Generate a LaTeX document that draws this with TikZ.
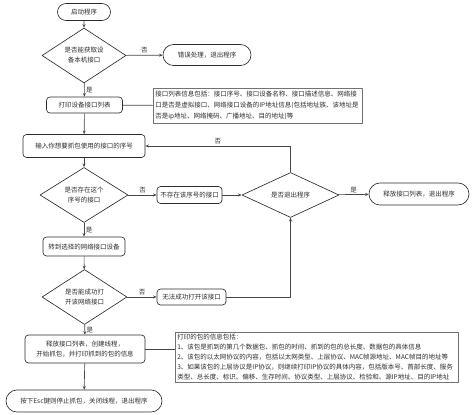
\documentclass[tikz,border=0pt]{standalone}
\usepackage{fontspec}
\setmainfont{Noto Sans CJK SC}
\usetikzlibrary{arrows.meta,shapes.geometric,shapes.misc,positioning}
\definecolor{fg}{RGB}{45,45,45}
\definecolor{ln}{RGB}{70,70,70}
\definecolor{mu}{RGB}{115,115,115}
\tikzset{
  every picture/.style={line width=0.65pt, line join=round,
    >={Stealth[length=3.6pt,width=3pt]}},
  every node/.style={font=\fontsize{6.5}{10}\selectfont, text=fg},
  % Knotentypen
  term/.style={rounded rectangle, draw=fg, fill=white, inner sep=1pt},
  proc/.style={rectangle, rounded corners=3.5pt, draw=fg, fill=white, align=center, inner sep=1pt},
  cond/.style={diamond, draw=fg, fill=white, inner sep=0pt, align=center},
  memo/.style={rectangle, draw=mu, fill=white, align=left, anchor=north west,
    inner sep=2pt, text width=#1},
  % Verbindungen
  flow/.style={ln, ->},
  link/.style={ln},
  lbl/.style={inner sep=1.5pt},
}
\begin{document}
\begin{tikzpicture}[x=1pt, y=-1pt]
  \useasboundingbox (0,0) rectangle (474,415);
  % Hauptpfad links
  \node[term, minimum width=55pt, minimum height=17pt] (start) at (84,12) {启动程序};
  \node[cond, minimum width=84pt, minimum height=36pt] (getdev) at (84,55.5) {是否能获取设\\备本机接口};
  \node[term, minimum width=90pt, minimum height=21pt] (err) at (207,55) {错误处理，退出程序};
  \node[proc, minimum width=76pt, minimum height=16pt] (print) at (84.5,105) {打印设备接口列表};
  \node[memo=205pt, minimum height=35pt, font=\fontsize{6.5}{11}\selectfont] (note1) at (153,88)
    {接口列表信息包括：接口序号、接口设备名称、接口描述信息、网络接\\
     口是否是虚拟接口、网络接口设备的IP地址信息(包括地址族、该地址是\\
     否是ip地址、网络掩码、广播地址、目的地址)等};
  \node[proc, minimum width=122pt, minimum height=23pt] (input) at (84,146) {输入你想要抓包使用的接口的序号};
  \node[cond, minimum width=88pt, minimum height=38pt] (hasidx) at (84,195) {是否存在这个\\序号的接口};
  \node[proc, minimum width=65pt, minimum height=17pt] (noidx) at (189.5,195) {不存在该序号的接口};
  \node[cond, minimum width=97pt, minimum height=26pt] (askquit) at (290.5,195) {是否退出程序};
  \node[term, minimum width=102pt, minimum height=22pt] (quit) at (419,194) {释放接口列表，退出程序};
  \node[proc, minimum width=82pt, minimum height=19pt] (goto) at (84,246.5) {转到选择的网络接口设备};
  \node[cond, minimum width=85pt, minimum height=38pt] (canopen) at (84.5,297) {是否能成功打\\开该网络接口};
  \node[proc, minimum width=69pt, minimum height=16pt] (fail) at (191.5,297) {无法成功打开该接口};
  \node[proc, minimum width=120pt, minimum height=28pt] (capture) at (85,349) {释放接口列表，创建线程，\\开始抓包，并打印抓到的包的信息};
  \node[memo=279pt, minimum height=48pt] (note2) at (175,332)
    {打印的包的信息包括：\\
     1、该包是抓到的第几个数据包、抓包的时间、抓到的包的总长度、数据包的具体信息\\
     2、该包的以太网协议的内容，包括以太网类型、上层协议、MAC帧源地址、MAC帧目的地址等\\
     3、如果该包的上层协议是IP协议，则继续打印IP协议的具体内容，包括版本号、首部长度、服务\\
     类型、总长度、标识、偏移、生存时间、协议类型、上层协议、检验和、源IP地址、目的IP地址};
  \node[term, minimum width=158pt, minimum height=22pt] (stop) at (84,401) {按下Esc键则停止抓包，关闭线程，退出程序};
  % Pfeile
  \draw[flow] (start) -- (getdev);
  \draw[flow] (getdev) -- node[lbl, above] {否} (err);
  \draw[flow] (getdev) -- node[lbl, right] {是} (print);
  \draw[link] (print) -- (note1);
  \draw[flow] (print) -- (input);
  \draw[flow] (input) -- (hasidx);
  \draw[flow] (hasidx) -- node[lbl, above] {否} (noidx);
  \draw[flow] (noidx) -- (askquit);
  \draw[flow] (askquit) -- node[lbl, above] {是} (quit);
  \draw[flow] (askquit.north) |- node[lbl, pos=0.75, above] {否} (input.east);
  \draw[flow] (hasidx) -- node[lbl, right] {是} (goto);
  \draw[flow] (goto) -- (canopen);
  \draw[flow] (canopen) -- node[lbl, above] {否} (fail);
  \draw[flow] (fail.east) -| (askquit.south);
  \draw[flow] (canopen) -- node[lbl, right] {是} (capture);
  \draw[link] (capture.east) -- (capture.east -| note2.west);
  \draw[flow] (capture) -- (stop);
\end{tikzpicture}
\end{document}
